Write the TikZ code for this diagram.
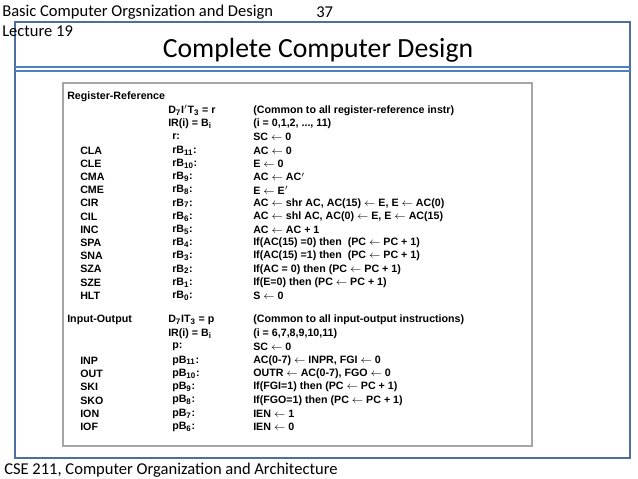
\documentclass[tikz,border=0pt]{standalone}
\usepackage{fontspec}
\setmainfont{Carlito}
\newfontfamily\tabfont{Liberation Sans}
\newcommand{\la}{$\leftarrow$}
\newcommand{\sbs}[1]{\textsubscript{#1}}
\begin{document}
\begin{tikzpicture}[x=0.75pt,y=-0.75pt,
  hdr/.style={anchor=west,inner sep=0pt,font=\fontsize{12.4}{14}\selectfont},
  tb/.style={anchor=west,inner sep=0pt,font=\tabfont\bfseries\fontsize{8}{9}\selectfont}]
\useasboundingbox (0,0) rectangle (638,478);
\fill[white] (0,0) rectangle (638,478);
\draw[draw={rgb,255:red,79;green,110;blue,160},line width=1.2pt] (15,22) rectangle (630,458);
\draw[draw={rgb,255:red,79;green,129;blue,189},line width=0.9pt] (15,67) -- (630,67);
\draw[draw={rgb,255:red,79;green,129;blue,189},line width=0.9pt] (15,71) -- (630,71);
\node[hdr] (h1) at (2,12) {Basic Computer Orgsnization and Design};
\node[hdr] (h2) at (316,12) {37};
\node[hdr] (h3) at (2,31) {Lecture 19};
\node[anchor=center,inner sep=0pt,font=\fontsize{20.8}{24}\selectfont] (title) at (318,50) {Complete Computer Design};
\node[hdr] (foot) at (4,470) {CSE 211, Computer Organization and Architecture};
\draw[gray!70,line width=0.8pt] (63,83) rectangle (532,446);
\def\a{80}\def\b{168}\def\c{253}
\node[tb] (rr) at (67,97) {Register-Reference};
\node[tb] at (\b,110.5) {D\sbs{7}I$'$T\sbs{3} = r};
\node[tb] at (\c,110.5) {(Common to all register-reference instr)};
\node[tb] at (\b,124) {IR(i) = B\sbs{i}};
\node[tb] at (\c,124) {(i = 0,1,2, ..., 11)};
\node[tb] at (\b+4,137) {r:};
\node[tb] at (\c,137) {SC \la{} 0};
\foreach \n/\m/\r [count=\k from 0] in {
 CLA/rB\sbs{11}:/AC \la{} 0,
 CLE/rB\sbs{10}:/E \la{} 0,
 CMA/rB\sbs{9}:/AC \la{} AC$'$,
 CME/rB\sbs{8}:/E \la{} E$'$,
 CIR/rB\sbs{7}:/{AC \la{} shr AC, AC(15) \la{} E, E \la{} AC(0)},
 CIL/rB\sbs{6}:/{AC \la{} shl AC, AC(0) \la{} E, E \la{} AC(15)},
 INC/rB\sbs{5}:/AC \la{} AC + 1,
 SPA/rB\sbs{4}:/If(AC(15) =0) then~ (PC \la{} PC + 1),
 SNA/rB\sbs{3}:/If(AC(15) =1) then~ (PC \la{} PC + 1),
 SZA/rB\sbs{2}:/If(AC = 0) then (PC \la{} PC + 1),
 SZE/rB\sbs{1}:/If(E=0) then (PC \la{} PC + 1),
 HLT/rB\sbs{0}:/S \la{} 0}{
 \node[tb] at (\a,150.5+13.2*\k) {\n};
 \node[tb] at (\b+4,150.5+13.2*\k) {\m};
 \node[tb] at (\c,150.5+13.2*\k) {\r};
}
\node[tb] (io) at (67,320) {Input-Output};
\node[tb] at (\b,320) {D\sbs{7}IT\sbs{3} = p};
\node[tb] at (\c,320) {(Common to all input-output instructions)};
\node[tb] at (\b,333.5) {IR(i) = B\sbs{i}};
\node[tb] at (\c,333.5) {(i = 6,7,8,9,10,11)};
\node[tb] at (\b+4,347) {p:};
\node[tb] at (\c,347) {SC \la{} 0};
\foreach \n/\m/\r [count=\k from 0] in {
 INP/pB\sbs{11}:/{AC(0-7) \la{} INPR, FGI \la{} 0},
 OUT/pB\sbs{10}:/{OUTR \la{} AC(0-7), FGO \la{} 0},
 SKI/pB\sbs{9}:/If(FGI=1) then (PC \la{} PC + 1),
 SKO/pB\sbs{8}:/If(FGO=1) then (PC \la{} PC + 1),
 ION/pB\sbs{7}:/IEN \la{} 1,
 IOF/pB\sbs{6}:/IEN \la{} 0}{
 \node[tb] at (\a,360.5+13.3*\k) {\n};
 \node[tb] at (\b+4,360.5+13.3*\k) {\m};
 \node[tb] at (\c,360.5+13.3*\k) {\r};
}
\end{tikzpicture}
\end{document}
